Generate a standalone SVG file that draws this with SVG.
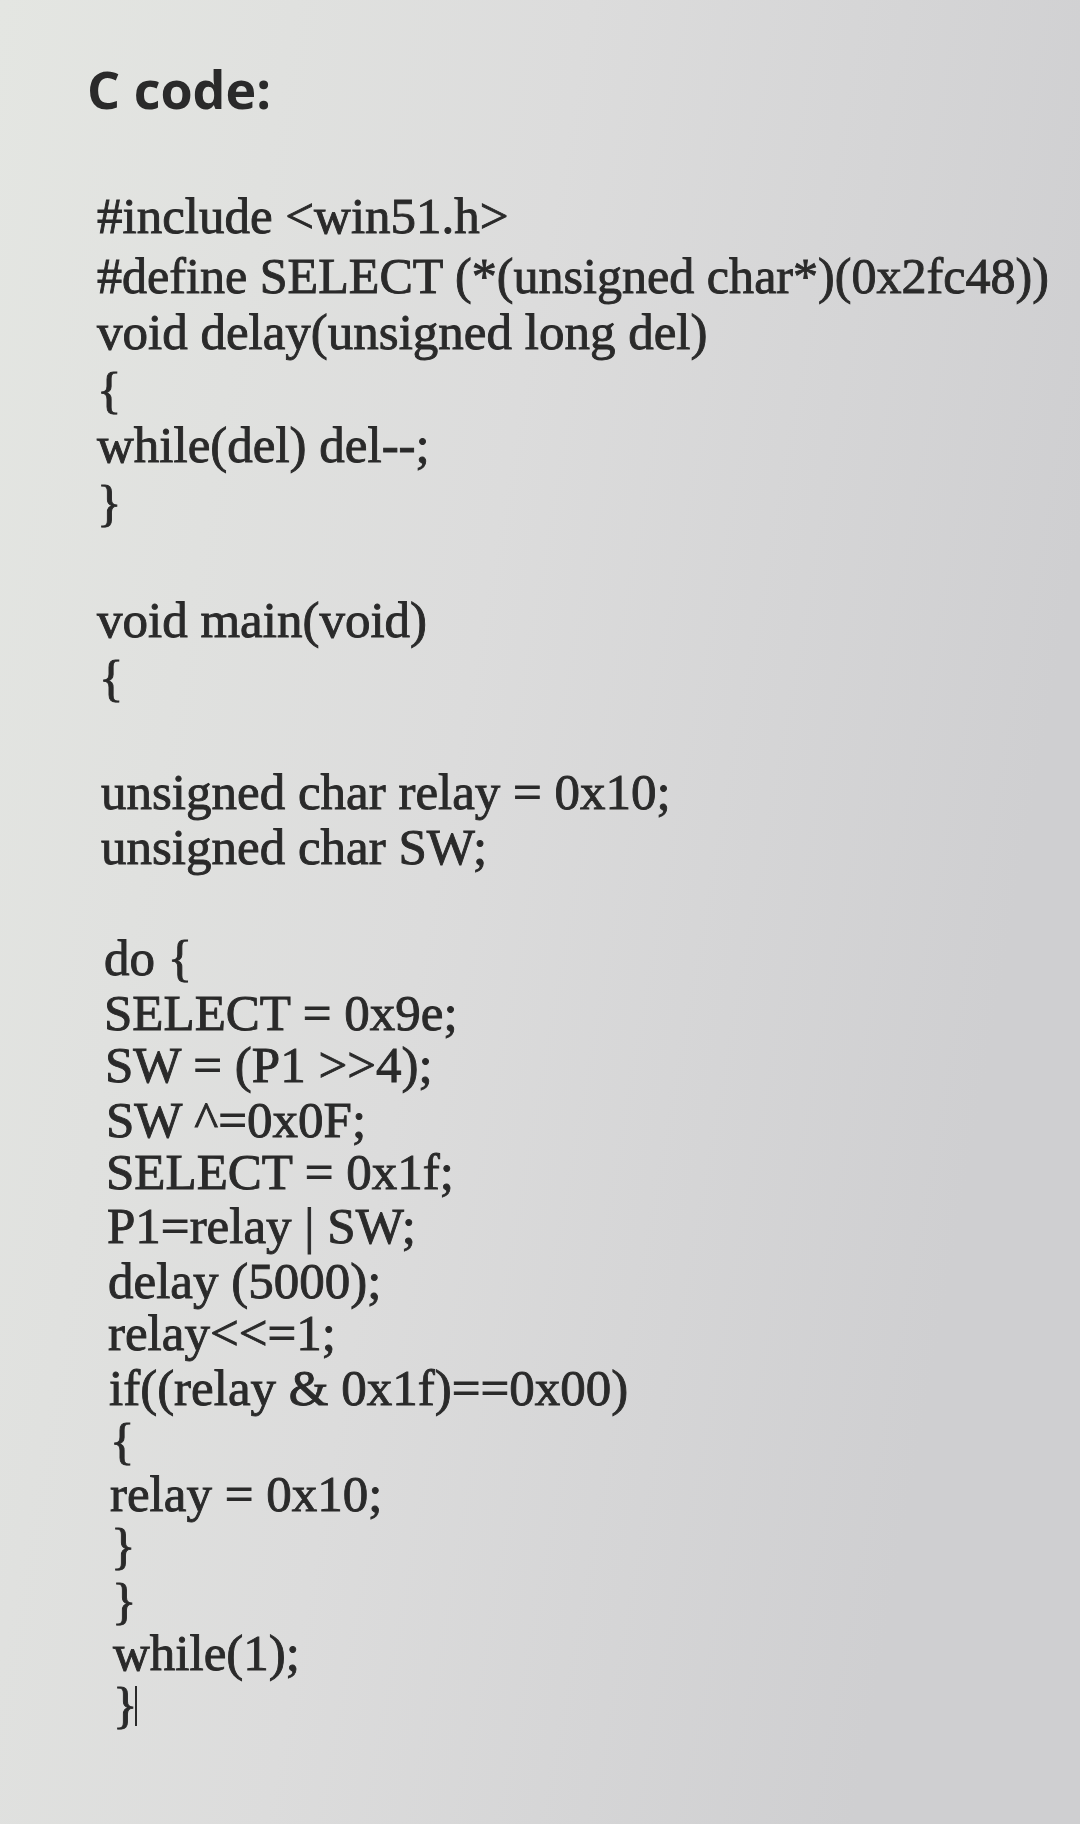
<svg xmlns="http://www.w3.org/2000/svg" width="1080" height="1824" viewBox="0 0 1080 1824">
<defs>
<linearGradient id="bg" x1="0" y1="0" x2="1" y2="0.3">
<stop offset="0" stop-color="#e4e6e2"/>
<stop offset="0.5" stop-color="#dcdcdc"/>
<stop offset="1" stop-color="#cfcfd1"/>
</linearGradient>
<style>
.c{font-family:"Liberation Serif","DejaVu Serif",serif;font-size:51px;fill:#2a2a2a;stroke:#2a2a2a;stroke-width:0.9}
.h{font-family:"Open Sans","Liberation Sans",sans-serif;font-size:52px;font-weight:bold;fill:#2a2a2a}
</style>
</defs>
<rect width="1080" height="1824" fill="url(#bg)"/>
<text class="h" x="87" y="109">C code:</text>
<text class="c" x="97" y="233">#include &lt;win51.h&gt;</text>
<text class="c" x="97" y="293" textLength="952" lengthAdjust="spacingAndGlyphs">#define SELECT (*(unsigned char*)(0x2fc48))</text>
<text class="c" x="97" y="349">void delay(unsigned long del)</text>
<text class="c" x="97" y="407">{</text>
<text class="c" x="97" y="462">while(del) del--;</text>
<text class="c" x="97" y="520">}</text>
<text class="c" x="97" y="637">void main(void)</text>
<text class="c" x="99" y="695">{</text>
<text class="c" x="101" y="809">unsigned char relay = 0x10;</text>
<text class="c" x="101" y="864">unsigned char SW;</text>
<text class="c" x="104" y="975">do {</text>
<text class="c" x="104" y="1030">SELECT = 0x9e;</text>
<text class="c" x="105" y="1082">SW  = (P1 &gt;&gt;4);</text>
<text class="c" x="106" y="1137">SW ^=0x0F;</text>
<text class="c" x="106" y="1189">SELECT = 0x1f;</text>
<text class="c" x="107" y="1243">P1=relay | SW;</text>
<text class="c" x="108" y="1298">delay (5000);</text>
<text class="c" x="108" y="1350">relay&lt;&lt;=1;</text>
<text class="c" x="109" y="1405">if((relay &amp; 0x1f)==0x00)</text>
<text class="c" x="110" y="1458">{</text>
<text class="c" x="110" y="1511">relay = 0x10;</text>
<text class="c" x="111" y="1563">}</text>
<text class="c" x="112" y="1618">}</text>
<text class="c" x="113" y="1670">while(1);</text>
<text class="c" x="113" y="1722">}</text>
<line x1="136" y1="1686" x2="136" y2="1726" stroke="#2a2a2a" stroke-width="2"/>
</svg>
